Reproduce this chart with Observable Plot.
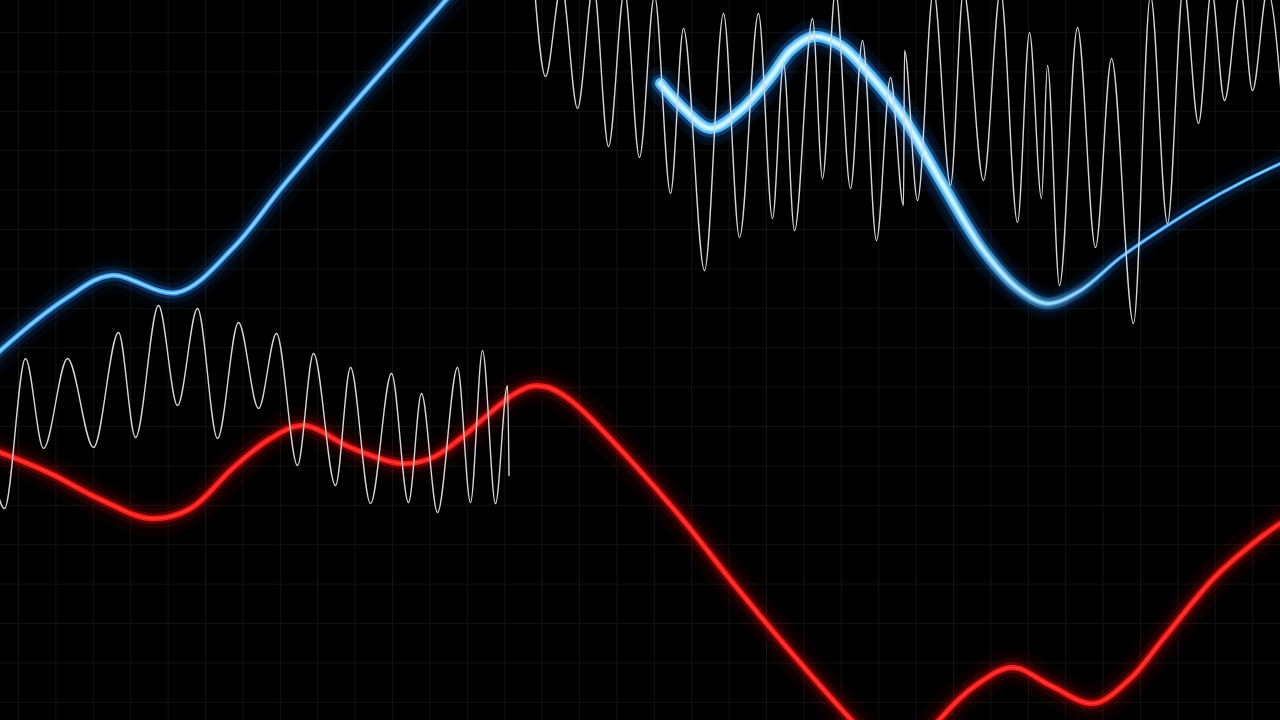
<!DOCTYPE html>
<html><head><meta charset="utf-8">
<script src="https://cdn.jsdelivr.net/npm/d3@7"></script>
<script src="https://cdn.jsdelivr.net/npm/@observablehq/plot@0.6"></script>
<style>html,body{margin:0;padding:0;background:#000;overflow:hidden}#chart svg{display:block}</style>
</head><body><div id="chart"></div>
<script>
// faint background grid positions
const gridX = [18, 55.4, 92.8, 130.2, 167.6, 205, 242.4, 279.8, 317.2, 354.6, 392, 429.4, 466.8, 504.2, 541.6, 579, 616.4, 653.8, 691.2, 728.6, 766, 803.4, 840.8, 878.2, 915.6, 953, 990.4, 1027.8, 1065.2, 1102.6, 1140, 1177.4, 1214.8, 1252.2];
const gridY = [32, 71.4, 110.8, 150.2, 189.6, 229, 268.4, 307.8, 347.2, 386.6, 426, 465.4, 504.8, 544.2, 583.6, 623, 662.4, 701.8];

// blue curve, left part
const blueAX = [-20, 0, 67, 110, 177, 233, 283, 357, 445, 470];
const blueAY = [370, 350, 297, 275, 292, 247, 185, 99, 0, -28];

// blue curve, right part
const blueBX = [660, 685, 710, 740, 770, 790, 813, 840, 870, 903, 940, 983, 1020, 1047, 1080, 1120, 1170, 1220, 1280, 1300];
const blueBY = [83, 110, 128, 110, 77, 50, 36, 45, 75, 117, 180, 250, 290, 303, 290, 257, 223, 193, 163, 155];

// red curve, first part
const redAX = [-20, 0, 50, 100, 150, 190, 233, 270, 303, 350, 400, 430, 460, 490, 513, 530, 548, 565, 583, 633, 683, 733, 783, 833, 870];
const redAY = [445, 452, 473, 499, 518, 508, 467, 438, 425, 447, 463, 458, 438, 412, 394, 386, 387, 396, 411, 463, 520, 583, 643, 700, 740];

// red curve, second part
const redBX = [920, 940, 975, 1012, 1050, 1093, 1130, 1163, 1213, 1250, 1280, 1300];
const redBY = [745, 718, 685, 667, 685, 703, 678, 638, 578, 545, 523, 512];

// white oscillation, lower left (peaks and troughs)
const whiteAX = [-8, 4, 25, 43, 67, 93, 118, 135, 158, 177, 197, 217, 238, 258, 276, 297, 313, 335, 350, 370, 391, 408, 421, 437, 457, 470, 482, 495, 507, 508.5];
const whiteAY = [470, 508, 358, 448, 358, 447, 332, 437, 305, 405, 308, 438, 322, 408, 333, 465, 353, 485, 367, 503, 373, 502, 393, 512, 367, 502, 350, 503, 385, 475];

// white oscillation, upper right (peaks and troughs)
const whiteBX = [533, 545, 561, 577, 593, 608, 624, 639, 654, 670, 683, 704, 723, 739, 758, 772, 783, 794, 812, 822, 835, 850, 862, 876, 890, 903, 904, 917, 933, 950, 963, 983, 1000, 1017, 1029, 1041, 1047, 1059, 1077, 1095, 1111, 1133, 1150, 1167, 1183, 1198, 1211, 1224, 1240, 1252, 1267, 1285];
const whiteBY = [-25, 76, -15, 108, -15, 146, -10, 157, -5, 193, 28, 270, 13, 237, 13, 218, 63, 230, 18, 178, -10, 188, 40, 240, 77, 205, 50, 200, -10, 185, -10, 180, -10, 222, 32, 198, 65, 285, 27, 247, 58, 323, -5, 223, -15, 123, -10, 100, -10, 90, -10, 150];

const pts = (xs, ys) => xs.map((x, i) => ({x, y: ys[i]}));
const blueA = pts(blueAX, blueAY);
const blueB = pts(blueBX, blueBY);
const redA = pts(redAX, redAY);
const redB = pts(redBX, redBY);
const whiteA = pts(whiteAX, whiteAY);
const whiteB = pts(whiteBX, whiteBY);

const SMOOTH = "catmull-rom";
function glowLine(data, layers, curve = SMOOTH) {
  return layers.map(l => Plot.line(data, {x: "x", y: "y", curve, stroke: l.c, strokeWidth: l.w, strokeOpacity: l.o ?? 1, strokeLinecap: "round"}));
}

const redLayers = [
  {c: "#ff0000", w: 36, o: 0.05},
  {c: "#ff0a0a", w: 20, o: 0.1},
  {c: "#ff1010", w: 11, o: 0.25},
  {c: "#ff1414", w: 5.5},
  {c: "#ff3a30", w: 2}
];
const blueALayers = [
  {c: "#1070ff", w: 34, o: 0.05},
  {c: "#1a80ff", w: 20, o: 0.1},
  {c: "#2a90ff", w: 11, o: 0.25},
  {c: "#3aa6ff", w: 5},
  {c: "#90d4ff", w: 2}
];
// thick layers of the right blue curve, faded out toward the right
const fadeColors = ["#1a80fe", "#2a98fe", "#55bffe", "#a8e6fe", "#d8f6fe"];
const blueBThick = [
  {c: fadeColors[0], w: 34, o: 0.1},
  {c: fadeColors[1], w: 18, o: 0.3},
  {c: fadeColors[2], w: 11},
  {c: fadeColors[3], w: 6},
  {c: fadeColors[4], w: 2.5}
];

const chart = Plot.plot({
  width: 1280, height: 720, margin: 0,
  x: {domain: [0, 1280], axis: null},
  y: {domain: [720, 0], axis: null},
  style: {background: "#000", overflow: "hidden"},
  marks: [
    Plot.ruleX(gridX, {stroke: "#131313", strokeWidth: 1}),
    Plot.ruleY(gridY, {stroke: "#121212", strokeWidth: 1}),
    ...glowLine(redA, redLayers),
    ...glowLine(redB, redLayers),
    ...glowLine(blueA, blueALayers),
    ...glowLine(blueB, [
      {c: "#1070ff", w: 26, o: 0.06},
      {c: "#1a80ff", w: 14, o: 0.14},
      {c: "#2e9cff", w: 3.5},
      {c: "#8fd6ff", w: 1.4}
    ]),
    ...glowLine(blueB, blueBThick),
    Plot.line(whiteA, {x: "x", y: "y", curve: "monotone-x", stroke: "#d6d6d6", strokeWidth: 1.4}),
    Plot.line(whiteB, {x: "x", y: "y", curve: "monotone-x", stroke: "#d6d6d6", strokeWidth: 1.4})
  ]
});

// horizontal fade mask for the thick blue layers
const svg = d3.select(chart);
const defs = svg.insert("defs", ":first-child");
const grad = defs.append("linearGradient").attr("id", "fadeGrad")
  .attr("gradientUnits", "userSpaceOnUse").attr("x1", 930).attr("x2", 1120).attr("y1", 0).attr("y2", 0);
grad.append("stop").attr("offset", 0).attr("stop-color", "#fff");
grad.append("stop").attr("offset", 1).attr("stop-color", "#000");
defs.append("mask").attr("id", "fadeMask").attr("maskUnits", "userSpaceOnUse")
  .attr("x", 0).attr("y", 0).attr("width", 1280).attr("height", 720)
  .append("rect").attr("width", 1280).attr("height", 720).attr("fill", "url(#fadeGrad)");
svg.selectAll("g").filter(function() {
  return fadeColors.includes(this.getAttribute("stroke"));
}).attr("mask", "url(#fadeMask)");

document.getElementById("chart").appendChild(chart);
</script>
</body></html>
